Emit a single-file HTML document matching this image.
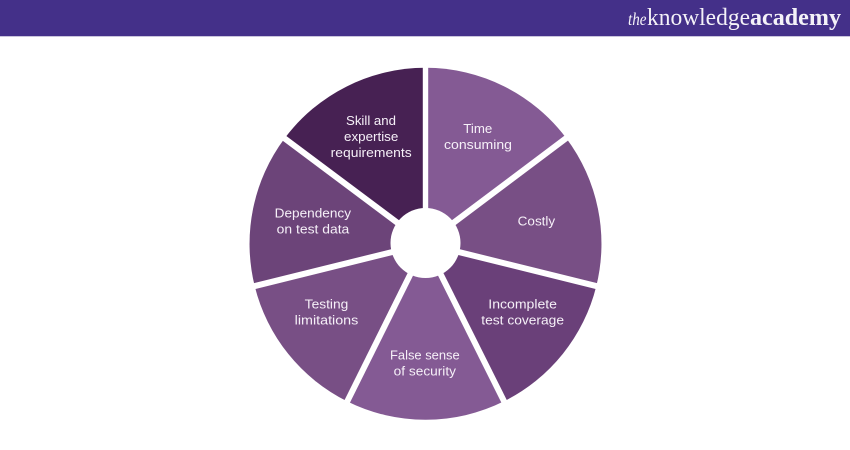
<!DOCTYPE html>
<html lang="en">
<head>
<meta charset="utf-8">
<title>Diagram</title>
<style>
html,body{margin:0;padding:0;background:#fff;width:850px;height:450px;overflow:hidden}
svg{display:block}
.l{font-family:"Liberation Sans",sans-serif;font-size:13px;fill:#f6f0f8}
.s{font-family:"Liberation Serif",serif;fill:#f4f2f8}
</style>
</head>
<body>
<svg width="850" height="450" viewBox="0 0 850 450" xmlns="http://www.w3.org/2000/svg">
<rect width="850" height="450" fill="#fff"/>
<rect width="850" height="36" fill="#443089"/>
<rect y="36" width="850" height="1" fill="#c9c4dc"/>
<text class="s" x="628" y="25" font-size="18" font-style="italic" textLength="18.5" lengthAdjust="spacingAndGlyphs">the</text>
<text class="s" x="647" y="25" font-size="24.5" textLength="103" lengthAdjust="spacingAndGlyphs">knowledge</text>
<text class="s" x="750" y="25" font-size="24.5" font-weight="bold" textLength="91" lengthAdjust="spacingAndGlyphs">academy</text>

<path d="M425.5 243.8L425.5 67.8A176 176 0 0 1 566.2 138.1Z" fill="#845a94"/>
<path d="M425.5 243.8L566.2 138.1A176 176 0 0 1 596.3 286.1Z" fill="#784f85"/>
<path d="M425.5 243.8L596.3 286.1A176 176 0 0 1 504 401.3Z" fill="#6a4079"/>
<path d="M425.5 243.8L504 401.3A176 176 0 0 1 347.2 401.4Z" fill="#845a94"/>
<path d="M425.5 243.8L347.2 401.4A176 176 0 0 1 254.7 286.1Z" fill="#784f85"/>
<path d="M425.5 243.8L254.7 286.1A176 176 0 0 1 284.6 138.4Z" fill="#6c4479"/>
<path d="M425.5 243.8L284.6 138.4A176 176 0 0 1 425.5 67.8Z" fill="#472153"/>

<g stroke="#fff" stroke-width="6" stroke-linecap="butt">
<line x1="425.5" y1="243.8" x2="425.5" y2="60" stroke-width="5.4"/>
<line x1="425.5" y1="243.8" x2="573.3" y2="132.8"/>
<line x1="425.5" y1="243.8" x2="604.9" y2="288.2"/>
<line x1="425.5" y1="243.8" x2="508" y2="409.2"/>
<line x1="425.5" y1="243.8" x2="343.3" y2="409.3"/>
<line x1="425.5" y1="243.8" x2="246.1" y2="288.2"/>
<line x1="425.5" y1="243.8" x2="277.5" y2="133.1"/>
</g>
<circle cx="425.5" cy="243" r="35" fill="#fff"/>

<text class="l" x="463.3" y="133" textLength="29" lengthAdjust="spacingAndGlyphs">Time</text>
<text class="l" x="444" y="149" textLength="68" lengthAdjust="spacingAndGlyphs">consuming</text>
<text class="l" x="517.7" y="225.5" textLength="37.5" lengthAdjust="spacingAndGlyphs">Costly</text>
<text class="l" x="488.3" y="308.3" textLength="68.7" lengthAdjust="spacingAndGlyphs">Incomplete</text>
<text class="l" x="481.3" y="324.3" textLength="82.7" lengthAdjust="spacingAndGlyphs">test coverage</text>
<text class="l" x="390" y="359.3" textLength="69.7" lengthAdjust="spacingAndGlyphs">False sense</text>
<text class="l" x="393.7" y="375.3" textLength="62.3" lengthAdjust="spacingAndGlyphs">of security</text>
<text class="l" x="304.7" y="308.3" textLength="43.6" lengthAdjust="spacingAndGlyphs">Testing</text>
<text class="l" x="294.7" y="324.3" textLength="63.6" lengthAdjust="spacingAndGlyphs">limitations</text>
<text class="l" x="274.7" y="217.3" textLength="76.3" lengthAdjust="spacingAndGlyphs">Dependency</text>
<text class="l" x="276.7" y="233.3" textLength="72.6" lengthAdjust="spacingAndGlyphs">on test data</text>
<text class="l" x="346" y="125" textLength="50" lengthAdjust="spacingAndGlyphs">Skill and</text>
<text class="l" x="344" y="141" textLength="54.3" lengthAdjust="spacingAndGlyphs">expertise</text>
<text class="l" x="330.7" y="157" textLength="81" lengthAdjust="spacingAndGlyphs">requirements</text>
</svg>
</body>
</html>
